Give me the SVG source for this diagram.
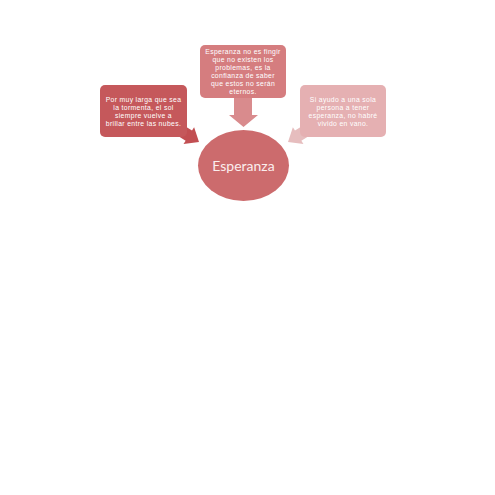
<svg xmlns="http://www.w3.org/2000/svg" width="495" height="495" viewBox="0 0 495 495">
<style>
.t{font-family:"Liberation Sans",Arial,sans-serif;font-size:6.8px;letter-spacing:0.35px;fill:#ffffff;text-anchor:middle}
.c{font-family:Lato,"Open Sans","Liberation Sans",sans-serif;font-size:14px;fill:#fbeeee;text-anchor:middle}
</style>
<defs>
<polygon id="arr" points="0,0 -12,-10 -12,-6 -42,-6 -42,6 -12,6 -12,10"/>
</defs>
<rect width="495" height="495" fill="#ffffff"/>
<g id="connectors">
<use href="#arr" fill="#c24f52" transform="translate(199,142) rotate(32)"/>
<use href="#arr" fill="#e6bdbe" transform="translate(288,142) rotate(148)"/>
<polygon fill="#d98b8d" points="234,96 252,96 252,115 258,115 243.5,127 229,115 234,115"/>
</g>
<g id="left">
<rect x="100" y="85" width="87" height="52" rx="5" fill="#c5585b"/>
<text class="t" x="143.5" y="102">Por muy larga que sea</text>
<text class="t" x="143.5" y="110">la tormenta, el sol</text>
<text class="t" x="143.5" y="118">siempre vuelve a</text>
<text class="t" x="143.5" y="126">brillar entre las nubes.</text>
</g>
<g id="middle">
<rect x="200" y="45" width="86" height="53" rx="5" fill="#d57d7f"/>
<text class="t" x="243" y="54">Esperanza no es fingir</text>
<text class="t" x="243" y="62">que no existen los</text>
<text class="t" x="243" y="70">problemas, es la</text>
<text class="t" x="243" y="78">confianza de saber</text>
<text class="t" x="243" y="86">que estos no serán</text>
<text class="t" x="243" y="94">eternos.</text>
</g>
<g id="right">
<rect x="300" y="85" width="86" height="52" rx="5" fill="#e5b0b2"/>
<text class="t" x="343" y="102">Si ayudo a una sola</text>
<text class="t" x="343" y="110">persona a tener</text>
<text class="t" x="343" y="118">esperanza, no habré</text>
<text class="t" x="343" y="126">vivido en vano.</text>
</g>
<g id="center">
<ellipse cx="243.5" cy="165.5" rx="45.5" ry="35.5" fill="#cc6b6d"/>
<text class="c" x="243.5" y="170.5">Esperanza</text>
</g>
</svg>
